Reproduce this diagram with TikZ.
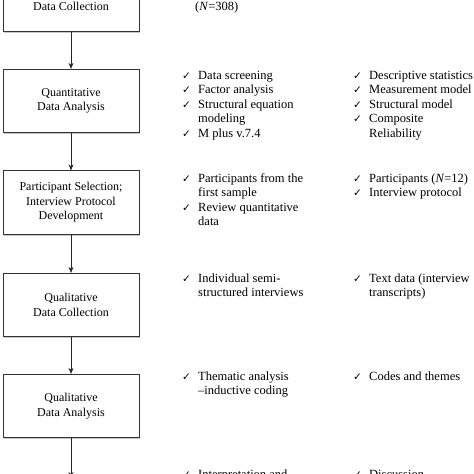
\documentclass[tikz,border=0pt]{standalone}
\usepackage{fontspec}
\setmainfont{Liberation Serif}
\newfontfamily\symfont{DejaVu Sans}
\usetikzlibrary{arrows.meta,shadows}
\newcommand{\ck}{{\symfont\fontsize{10.5}{10.5}\selectfont ✓}}
\newcommand{\cklist}[1]{\begin{tabular}[t]{@{}p{16pt}@{}l@{}}#1\end{tabular}}
\begin{document}
\begin{tikzpicture}[x=1pt,y=-1pt,
  stage/.style={draw=black!80, line width=0.8pt, fill=white, minimum width=136pt,
    minimum height=63.5pt, align=center, inner sep=2pt,
    font=\fontsize{12}{14.5}\selectfont,
    drop shadow={shadow xshift=1.3pt, shadow yshift=-1.3pt, opacity=0.22, fill=black}},
  stagetext/.style={inner sep=0pt, font=\fontsize{12}{14.5}\selectfont},
  arr/.style={-{Stealth[length=6pt,width=5pt]}, line width=0.6pt, black!85},
  lst/.style={anchor=base west, inner sep=0pt, font=\fontsize{12.5}{14.5}\selectfont}]
\useasboundingbox (0,0) rectangle (474,474);
\clip (0,0) rectangle (474,474);
\fill[white] (0,0) rectangle (474,474);
% stages
\node[stage] (b1) at (71,0) {};
\node[stagetext, anchor=base] (t1) at (71,10) {Data Collection};
\node[stage] (b2) at (71,101) {Quantitative\\Data Analysis};
\node[stage] (b3) at (71,202.5) {Participant Selection;\\Interview Protocol\\Development};
\node[stage] (b4) at (71,305) {Qualitative\\Data Collection};
\node[stage] (b5) at (71,406) {Qualitative\\Data Analysis};
\coordinate (b6) at (71,478);
% connectors
\draw[arr] (b1) -- (b2);
\draw[arr] (b2) -- (b3);
\draw[arr] (b3) -- (b4);
\draw[arr] (b4) -- (b5);
\draw[arr] (b5) -- (b6);
% lists
\node[lst] (l1) at (195,10) {(\textit{N}=308)};
\node[lst] (l2) at (182,79) {\cklist{\ck & Data screening\\ \ck & Factor analysis\\ \ck & Structural equation\\ & modeling\\ \ck & M plus v.7.4}};
\node[lst] (r2) at (353,79) {\cklist{\ck & Descriptive statistics\\ \ck & Measurement model\\ \ck & Structural model\\ \ck & Composite\\ & Reliability}};
\node[lst] (l3) at (182,182) {\cklist{\ck & Participants from the\\ & first sample\\ \ck & Review quantitative\\ & data}};
\node[lst] (r3) at (353,182) {\cklist{\ck & Participants (\textit{N}=12)\\ \ck & Interview protocol}};
\node[lst] (l4) at (182,282) {\cklist{\ck & Individual semi-\\ & structured interviews}};
\node[lst] (r4) at (353,282) {\cklist{\ck & Text data (interview\\ & transcripts)}};
\node[lst] (l5) at (182,380) {\cklist{\ck & Thematic analysis\\ & –inductive coding}};
\node[lst] (r5) at (353,380) {\cklist{\ck & Codes and themes}};
\node[lst] (l6) at (182,478.5) {\cklist{\ck & Interpretation and}};
\node[lst] (r6) at (353,478.5) {\cklist{\ck & Discussion}};
\end{tikzpicture}
\end{document}
